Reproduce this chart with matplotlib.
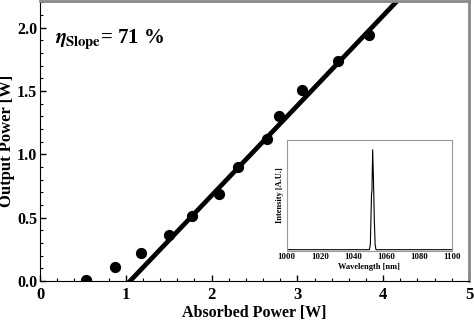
import matplotlib.pyplot as plt
from matplotlib.ticker import MultipleLocator

# measured output power vs absorbed pump power
absorbed = [0.54, 0.87, 1.18, 1.50, 1.77, 2.09, 2.31, 2.64, 2.78, 3.05, 3.47, 3.83]
output = [0.01, 0.11, 0.22, 0.365, 0.51, 0.69, 0.90, 1.12, 1.30, 1.51, 1.735, 1.945]

# linear fit: slope efficiency and threshold
slope = 0.71
threshold = 1.05
fit_x = [threshold, 4.3]

# laser spectrum for the inset
wavelength = [1000, 1050.0, 1050.6, 1051.3, 1051.6, 1052.0, 1052.5, 1053.0, 1053.5, 1054.0, 1100]
intensity = [0.0, 0.0, 0.05, 0.55, 0.6, 1.0, 0.7, 0.3, 0.05, 0.0, 0.0]


def main():
    plt.rcParams["font.family"] = ["Liberation Serif", "DejaVu Serif"]
    plt.rcParams["font.weight"] = "bold"
    plt.rcParams["mathtext.fontset"] = "stix"

    fig = plt.figure(figsize=(4.74, 3.23), dpi=100)
    ax = fig.add_axes([0.0844, 0.130, 0.905, 0.867])

    ax.scatter(absorbed, output, s=50, c="black", zorder=3)
    fit_y = [slope * (x - threshold) for x in fit_x]
    ax.plot(fit_x, fit_y, color="black", lw=3.4)

    ax.set_xlim(0, 5)
    ax.set_ylim(0, 2.21)
    ax.xaxis.set_major_locator(MultipleLocator(1))
    ax.xaxis.set_minor_locator(MultipleLocator(0.2))
    ax.yaxis.set_major_locator(MultipleLocator(0.5))
    ax.yaxis.set_minor_locator(MultipleLocator(0.1))
    ax.yaxis.set_major_formatter(plt.FuncFormatter(lambda v, p: f"{v:.1f}"))
    ax.tick_params(which="both", direction="in", labelsize=12)
    ax.tick_params(axis="y", labelsize=11.5)
    ax.tick_params(which="major", length=4, width=1)
    ax.tick_params(which="minor", length=2, width=0.8)
    ax.tick_params(axis="x", pad=4)
    ax.tick_params(axis="y", pad=2)
    for side in ["top", "right"]:
        ax.spines[side].set_color("#888888")
        ax.spines[side].set_linewidth(2)

    ax.set_xlabel("Absorbed Power [W]", fontsize=11.5, fontweight="bold", labelpad=2)
    ax.set_ylabel("Output Power [W]", fontsize=12, fontweight="bold")
    ax.yaxis.set_label_coords(-25 / 429, 0.5)

    ax.text(0.035, 0.86, r"$\eta_{\mathbf{Slope}}$= 71 %", transform=ax.transAxes,
            fontsize=15, fontweight="bold", va="center")

    ins = fig.add_axes([286.7 / 474, 1 - 250.7 / 323, 165.3 / 474, 111 / 323])
    ins.plot(wavelength, intensity, color="black", lw=0.8)
    ins.set_xlim(1000, 1100)
    ins.set_ylim(-0.01, 1.1)
    ins.set_xticks([1000, 1020, 1040, 1060, 1080, 1100])
    ins.set_yticks([])
    ins.tick_params(labelsize=6.3, length=0, pad=2)
    for s in ins.spines.values():
        s.set_color("#999999")
        s.set_linewidth(0.8)
    ins.set_xlabel("Wavelength [nm]", fontsize=6, fontweight="bold", labelpad=1)
    ins.set_ylabel("Intensity [A.U.]", fontsize=6, fontweight="bold", labelpad=2)

    fig.savefig("out.png", dpi=100)


if __name__ == "__main__":
    main()
